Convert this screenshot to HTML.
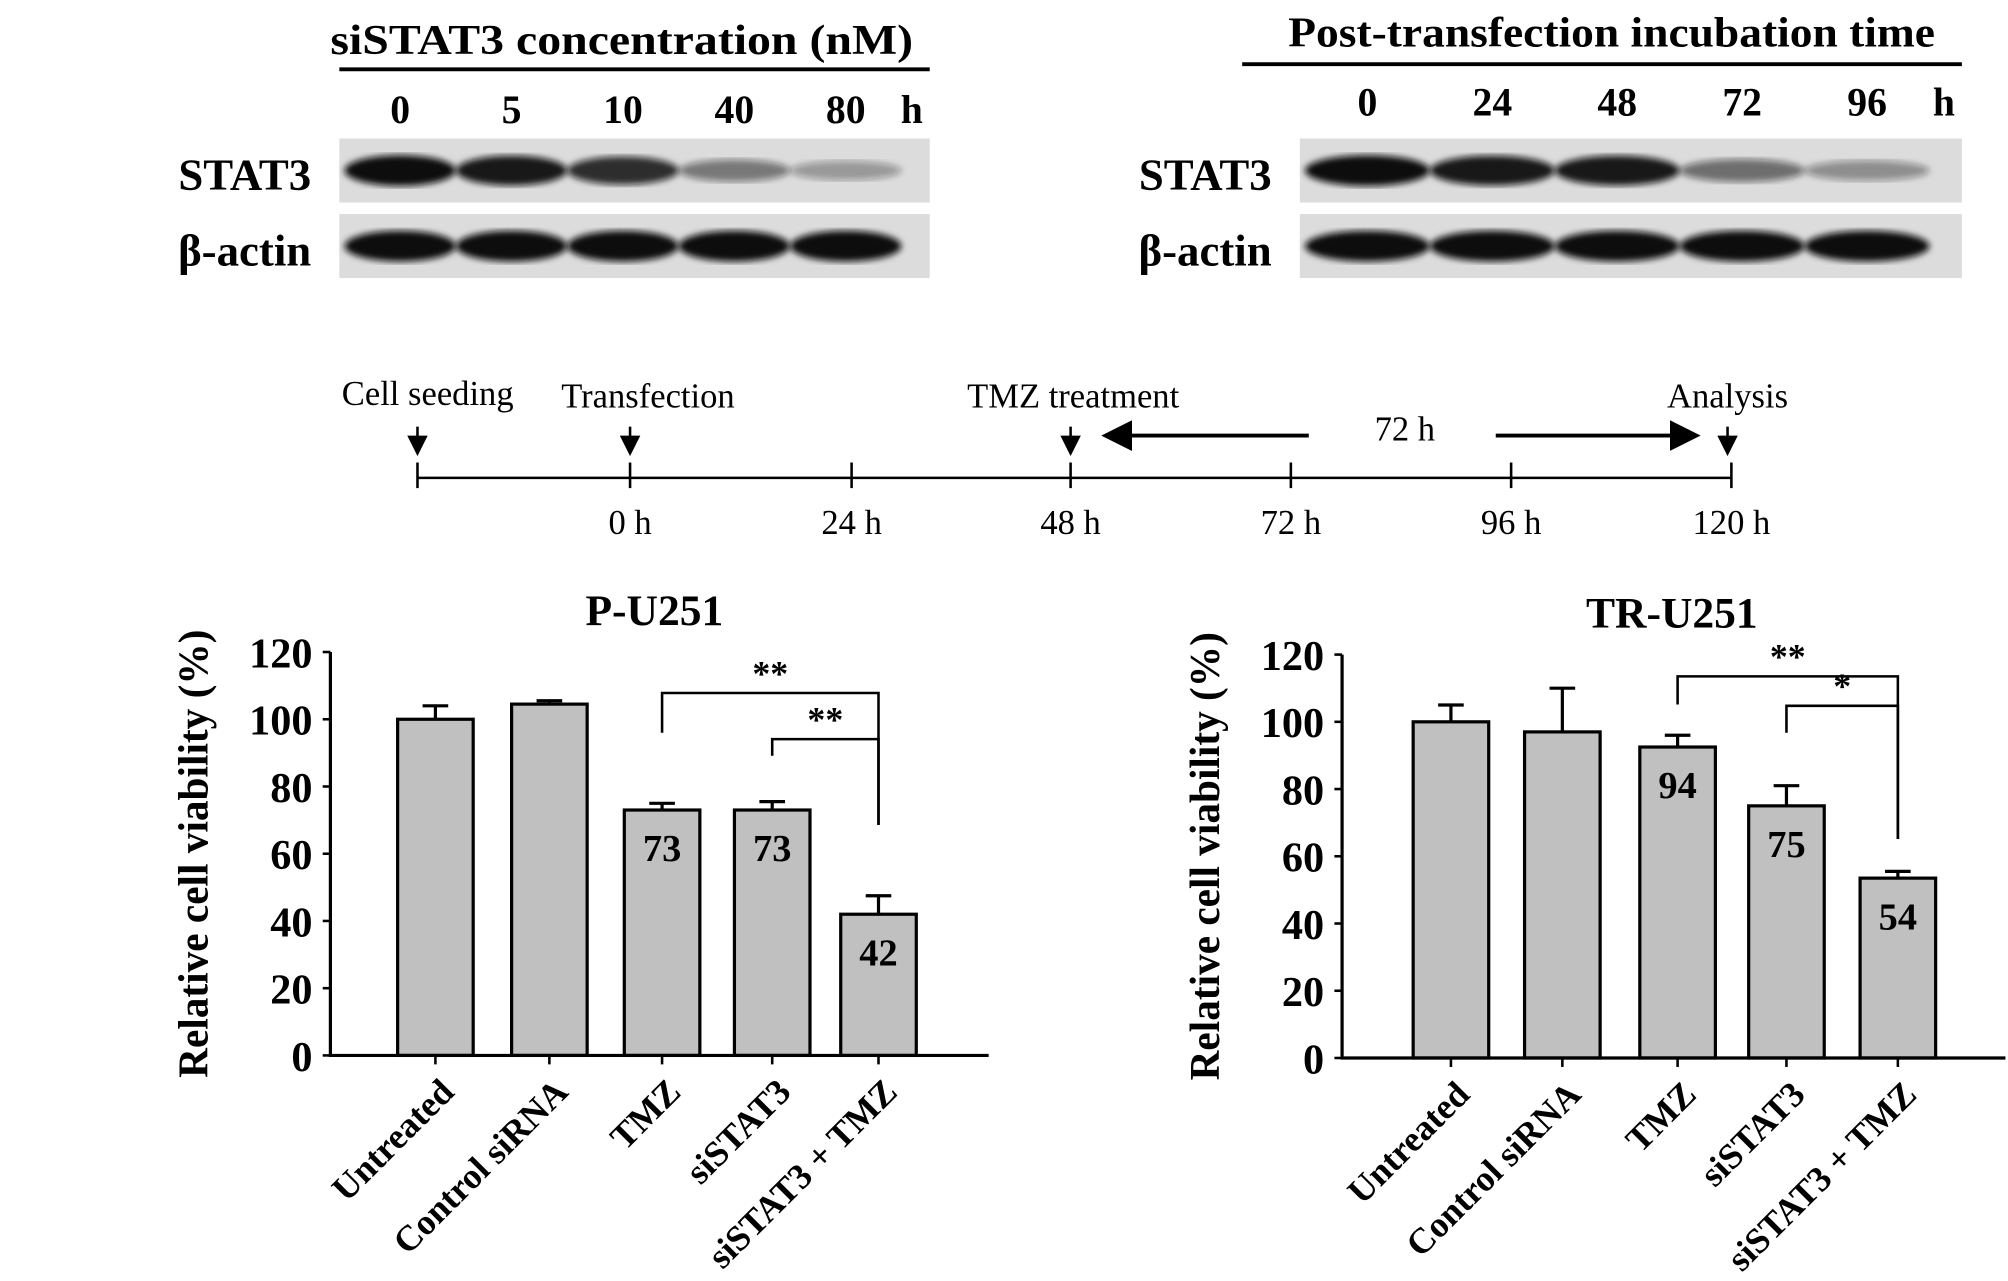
<!DOCTYPE html>
<html><head><meta charset="utf-8"><style>
html,body{margin:0;padding:0;background:#fff;}
svg{display:block;}
text{font-family:"Liberation Serif",serif;fill:#000;}
</style></head><body>
<svg id="fig" width="2008" height="1281" viewBox="0 0 1568 1000" xmlns="http://www.w3.org/2000/svg">
<defs>
<filter id="blur"><feGaussianBlur stdDeviation="2.5"/></filter>
<marker id="ah" markerWidth="8" markerHeight="8" refX="6" refY="4" orient="auto"><path d="M0,0 L8,4 L0,8 Z" fill="#000"/></marker>
</defs>
<g id="blots"></g>
<g id="timeline"></g>
<g id="chartL"></g>
<g id="chartR"></g>
</svg>
<script>
const categories = ["Untreated","Control siRNA","TMZ","siSTAT3","siSTAT3 + TMZ"];
const valuesP = [100, 104.5, 73, 73, 42];
const errorsP = [4, 1, 2, 2.5, 5.5];
const labelsP = ["", "", "73", "73", "42"];
const valuesTR = [100, 97, 92.5, 75, 53.5];
const errorsTR = [5, 13, 3.5, 6, 2];
const labelsTR = ["", "", "94", "75", "54"];
const yTicks = [0,20,40,60,80,100,120];
const concLabels = ["0","5","10","40","80"];
const timeLabels = ["0","24","48","72","96"];
const timelineTicks = ["0 h","24 h","48 h","72 h","96 h","120 h"];

const NS="http://www.w3.org/2000/svg";
function mk(tag, attrs, parent, txt){const e=document.createElementNS(NS,tag);for(const k in attrs)e.setAttribute(k,attrs[k]);if(txt!==undefined)e.textContent=txt;parent.appendChild(e);return e;}

// ---- blots
const blots=document.getElementById('blots');
function blot(x0,x1,title,titleY,lineY,lanes,laneY,intens,prefix){
  let t=mk('text',{x:(x0+x1)/2-(prefix==='time'?15:10),y:titleY,'font-size':33,'font-weight':'bold','text-anchor':'middle',textLength:prefix==='time'?505:455,lengthAdjust:'spacingAndGlyphs'},blots,title);
  
  
  let l=mk('line',{x1:x0-(prefix==='time'?45:0),x2:x1,y1:lineY,y2:lineY,stroke:'#000','stroke-width':3},blots);
  
  
  const w=(x1-x0)/5.3;
  lanes.forEach((lab,i)=>{
    const cx=x0+w*(i+0.5)+4;
    let tt=mk('text',{x:cx,y:laneY,'font-size':31,'font-weight':'bold','text-anchor':'middle'},blots,lab);
    
    
  });
  let h=mk('text',{x:x1-14,y:laneY,'font-size':31,'font-weight':'bold','text-anchor':'middle'},blots,'h');
  
  
  [['STAT3',108],['β-actin',167]].forEach(([name,y],r)=>{
    let bg=mk('rect',{x:x0,y:y,width:x1-x0,height:50,fill:'#dcdcdc'},blots);
    
    
    let lt=mk('text',{x:x0-22,y:y+40,'font-size':35,'font-weight':'bold','text-anchor':'end'},blots,name);
    
    
    for(let i=0;i<5;i++){
      const cx=x0+w*(i+0.5)+4;
      const op=r?1:intens[i];
      const hh=r?12:(5+7*op);
      let b=mk('ellipse',{cx:cx,cy:y+25,rx:w*0.5,ry:hh,fill:'#111','fill-opacity':Math.min(1,op),filter:'url(#blur)'},blots);
      
      
    }
  });
}
blot(265,726,'siSTAT3 concentration (nM)',42,54,concLabels,96,[1,0.95,0.85,0.5,0.35],'conc');
blot(1015,1532,'Post-transfection incubation time',36,50,timeLabels,90,[1,0.95,0.95,0.55,0.4],'time');

// ---- timeline
const tl=document.getElementById('timeline');
let ln=mk('line',{x1:326,x2:1352,y1:373,y2:373,stroke:'#000','stroke-width':2},tl);


const tlX=[326,492,665,836,1008,1180,1352];
tlX.forEach((x,i)=>{
  let tk=mk('line',{x1:x,x2:x,y1:361,y2:381,stroke:'#000','stroke-width':2},tl);
  
  
  if(i>0){
    let tt=mk('text',{x:x,y:417,'font-size':27,'text-anchor':'middle'},tl,timelineTicks[i-1]);
    
    
  }
});
[[326,'Cell seeding',334,316],[492,'Transfection',506,318],[836,'TMZ treatment',838,318],[1349,'Analysis',1349,318]].forEach(([x,lab,tx,ty])=>{
  let a=mk('line',{x1:x,x2:x,y1:333,y2:352,stroke:'#000','stroke-width':2,'marker-end':'url(#ah)'},tl);
  
  
  let t=mk('text',{x:tx,y:ty,'font-size':27,'text-anchor':'middle'},tl,lab);
  
  
});
let a1=mk('line',{x1:1022,x2:866,y1:340,y2:340,stroke:'#000','stroke-width':3,'marker-end':'url(#ah)'},tl);


let a2=mk('line',{x1:1168,x2:1322,y1:340,y2:340,stroke:'#000','stroke-width':3,'marker-end':'url(#ah)'},tl);


let dl=mk('text',{x:1097,y:344,'font-size':27,'text-anchor':'middle'},tl,'72 h');



// ---- bar charts
function chart(gid,title,axX,y0,y120,xEnd,centers,vals,errs,labs,sig){
  const g=document.getElementById(gid);
  const yS=v=>y0-(v/120)*(y0-y120);
  const bw=59;
  let tt=mk('text',{x:(centers[0]+centers[4])/2-2,y:y120-21,'font-size':34,'font-weight':'bold','text-anchor':'middle'},g,title);
  
  
  let yt=mk('text',{transform:`translate(${axX-96},${(y0+y120)/2}) rotate(-90)`,'font-size':33,'font-weight':'bold','text-anchor':'middle',textLength:350,lengthAdjust:'spacingAndGlyphs'},g,'Relative cell viability (%)');
  
  
  vals.forEach((v,i)=>{
    const c=centers[i];
    let e=mk('path',{d:`M${c},${yS(v)} V${yS(v+errs[i])} M${c-10},${yS(v+errs[i])} H${c+10}`,stroke:'#000','stroke-width':2.5,fill:'none'},g);
    
    
    let r=mk('rect',{x:c-bw/2,y:yS(v),width:bw,height:y0-yS(v),fill:'#c0c0c0',stroke:'#000','stroke-width':2.5},g);
    
    
    if(labs[i]){
      let l=mk('text',{x:c,y:yS(v)+40,'font-size':30,'font-weight':'bold','text-anchor':'middle'},g,labs[i]);
      
      
    }
    let tk=mk('line',{x1:c,x2:c,y1:y0,y2:y0+7,stroke:'#000','stroke-width':2},g);
    
    
    let cl=mk('text',{transform:`translate(${c+16},${y0+30}) rotate(-45)`,'font-size':28,'font-weight':'bold','text-anchor':'end'},g,categories[i]);
    
    
  });
  yTicks.forEach(t=>{
    let tk=mk('line',{x1:axX-6,x2:axX,y1:yS(t),y2:yS(t),stroke:'#000','stroke-width':2},g);
    
    
    let tl2=mk('text',{x:axX-14,y:yS(t)+12,'font-size':33,'font-weight':'bold','text-anchor':'end'},g,String(t));
    
    
  });
  let ax=mk('path',{d:`M${axX},${y120} V${y0} H${xEnd}`,stroke:'#000','stroke-width':2.5,fill:'none'},g);
  
  
  sig.forEach(([from,yTop,yLeft,yRight,star])=>{
    const x1=centers[from],x2=centers[4];
    let p=mk('path',{d:`M${x1},${yLeft} V${yTop} H${x2} V${yRight}`,stroke:'#000','stroke-width':2,fill:'none'},g);
    
    
    let s=mk('text',{x:(x1+x2)/2,y:yTop-6,'font-size':28,'font-weight':'bold','text-anchor':'middle'},g,star);
    
    
  });
}
chart('chartL','P-U251',258,824,509,772,[340,429,517,603,686],valuesP,errorsP,labelsP,
  [[2,541,572,644,'**'],[3,577,590,644,'**']]);
chart('chartR','TR-U251',1048,826,511,1566,[1133,1220,1310,1395,1482],valuesTR,errorsTR,labelsTR,
  [[2,528,550,655,'**'],[3,551,572,655,'*']]);
</script>
</body></html>
